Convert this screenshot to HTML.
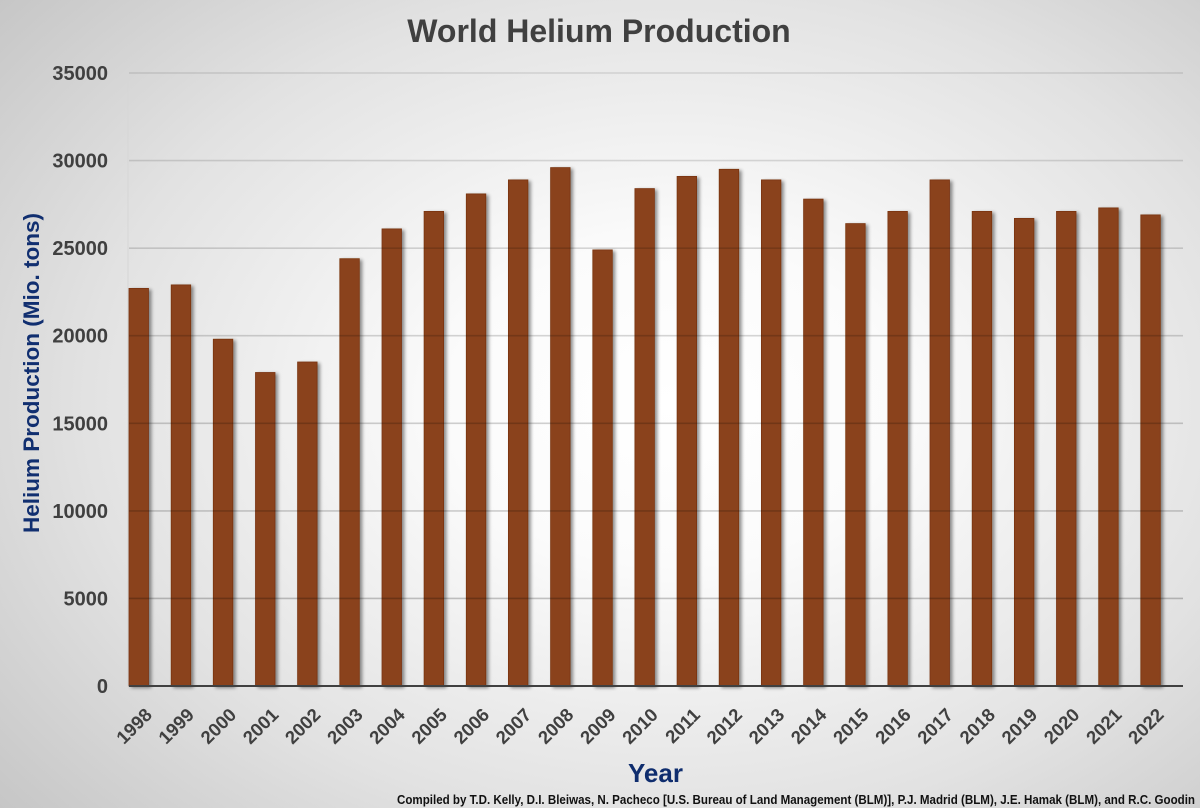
<!DOCTYPE html>
<html>
<head>
<meta charset="utf-8">
<style>
  html, body { margin:0; padding:0; }
  body { width:1200px; height:808px; overflow:hidden;
    background: radial-gradient(ellipse 75% 80% at 56% 50%, #ffffff 0%, #fbfbfb 25%, #e2e2e2 65%, #c4c4c4 100%); }
  svg { display:block; font-family: "Liberation Sans", Arial, sans-serif; }
</style>
</head>
<body>
<svg width="1200" height="808" viewBox="0 0 1200 808" xmlns="http://www.w3.org/2000/svg">
  <defs>
    <filter id="sh" x="-30%" y="-5%" width="160%" height="110%">
      <feGaussianBlur in="SourceAlpha" stdDeviation="1.8"/>
      <feOffset dx="2.5" dy="1.5" result="b"/>
      <feComponentTransfer><feFuncA type="linear" slope="0.45"/></feComponentTransfer>
      <feMerge><feMergeNode/><feMergeNode in="SourceGraphic"/></feMerge>
    </filter>
  </defs>

  <!-- title -->
  <text x="599" y="42" text-anchor="middle" font-size="32" font-weight="bold" fill="#404040">World Helium Production</text>

  <line x1="128" y1="73" x2="128" y2="686" stroke="#d6d6d6" stroke-width="1"/>

  <!-- y tick labels -->
  <g font-size="20" font-weight="bold" fill="#404040" text-anchor="end">
    <text x="108" y="80">35000</text>
    <text x="108" y="167.6">30000</text>
    <text x="108" y="255.2">25000</text>
    <text x="108" y="342.7">20000</text>
    <text x="108" y="430.3">15000</text>
    <text x="108" y="517.9">10000</text>
    <text x="108" y="605.4">5000</text>
    <text x="108" y="693">0</text>
  </g>

  <!-- bars -->
  <g fill="#8a421f" stroke="#7a3410" stroke-width="0.8" filter="url(#sh)">
    <rect x="129.0" y="288.4" width="19.5" height="397.6"/>
    <rect x="171.2" y="284.9" width="19.5" height="401.1"/>
    <rect x="213.3" y="339.2" width="19.5" height="346.8"/>
    <rect x="255.5" y="372.5" width="19.5" height="313.5"/>
    <rect x="297.6" y="362.0" width="19.5" height="324.0"/>
    <rect x="339.8" y="258.7" width="19.5" height="427.3"/>
    <rect x="382.0" y="228.9" width="19.5" height="457.1"/>
    <rect x="424.1" y="211.4" width="19.5" height="474.6"/>
    <rect x="466.3" y="193.9" width="19.5" height="492.1"/>
    <rect x="508.4" y="179.9" width="19.5" height="506.1"/>
    <rect x="550.6" y="167.6" width="19.5" height="518.4"/>
    <rect x="592.8" y="249.9" width="19.5" height="436.1"/>
    <rect x="634.9" y="188.6" width="19.5" height="497.4"/>
    <rect x="677.1" y="176.4" width="19.5" height="509.6"/>
    <rect x="719.2" y="169.3" width="19.5" height="516.7"/>
    <rect x="761.4" y="179.9" width="19.5" height="506.1"/>
    <rect x="803.6" y="199.1" width="19.5" height="486.9"/>
    <rect x="845.7" y="223.6" width="19.5" height="462.4"/>
    <rect x="887.9" y="211.4" width="19.5" height="474.6"/>
    <rect x="930.0" y="179.9" width="19.5" height="506.1"/>
    <rect x="972.2" y="211.4" width="19.5" height="474.6"/>
    <rect x="1014.4" y="218.4" width="19.5" height="467.6"/>
    <rect x="1056.5" y="211.4" width="19.5" height="474.6"/>
    <rect x="1098.7" y="207.9" width="19.5" height="478.1"/>
    <rect x="1140.8" y="214.9" width="19.5" height="471.1"/>
  </g>

  <!-- gridlines (over bars, semi-transparent) -->
  <g stroke="rgba(0,0,0,0.18)" stroke-width="1.6">
    <line x1="129" y1="73.0" x2="1183" y2="73.0" stroke="rgba(0,0,0,0.11)"/>
    <line x1="129" y1="160.6" x2="1183" y2="160.6" stroke="rgba(0,0,0,0.13)"/>
    <line x1="129" y1="248.2" x2="1183" y2="248.2" stroke="rgba(0,0,0,0.15)"/>
    <line x1="129" y1="335.7" x2="1183" y2="335.7" stroke="rgba(0,0,0,0.16)"/>
    <line x1="129" y1="423.3" x2="1183" y2="423.3"/>
    <line x1="129" y1="510.9" x2="1183" y2="510.9"/>
    <line x1="129" y1="598.4" x2="1183" y2="598.4" stroke="rgba(0,0,0,0.22)"/>
  </g>

  <!-- baseline -->
  <line x1="129" y1="686" x2="1183" y2="686" stroke="#404040" stroke-width="2"/>

  <!-- x tick labels -->
  <g font-size="18.5" font-weight="bold" fill="#404040" text-anchor="end">
    <text transform="translate(153.1,716) rotate(-45)">1998</text>
    <text transform="translate(195.2,716) rotate(-45)">1999</text>
    <text transform="translate(237.4,716) rotate(-45)">2000</text>
    <text transform="translate(279.6,716) rotate(-45)">2001</text>
    <text transform="translate(321.7,716) rotate(-45)">2002</text>
    <text transform="translate(363.9,716) rotate(-45)">2003</text>
    <text transform="translate(406.0,716) rotate(-45)">2004</text>
    <text transform="translate(448.2,716) rotate(-45)">2005</text>
    <text transform="translate(490.4,716) rotate(-45)">2006</text>
    <text transform="translate(532.5,716) rotate(-45)">2007</text>
    <text transform="translate(574.7,716) rotate(-45)">2008</text>
    <text transform="translate(616.8,716) rotate(-45)">2009</text>
    <text transform="translate(659.0,716) rotate(-45)">2010</text>
    <text transform="translate(701.2,716) rotate(-45)">2011</text>
    <text transform="translate(743.3,716) rotate(-45)">2012</text>
    <text transform="translate(785.5,716) rotate(-45)">2013</text>
    <text transform="translate(827.6,716) rotate(-45)">2014</text>
    <text transform="translate(869.8,716) rotate(-45)">2015</text>
    <text transform="translate(912.0,716) rotate(-45)">2016</text>
    <text transform="translate(954.1,716) rotate(-45)">2017</text>
    <text transform="translate(996.3,716) rotate(-45)">2018</text>
    <text transform="translate(1038.4,716) rotate(-45)">2019</text>
    <text transform="translate(1080.6,716) rotate(-45)">2020</text>
    <text transform="translate(1122.8,716) rotate(-45)">2021</text>
    <text transform="translate(1164.9,716) rotate(-45)">2022</text>
  </g>

  <!-- axis titles -->
  <text transform="translate(39,373) rotate(-90)" text-anchor="middle" font-size="22.5" font-weight="bold" fill="#112f70">Helium Production (Mio. tons)</text>
  <text x="655.5" y="782" text-anchor="middle" font-size="26" font-weight="bold" fill="#0f2d6e">Year</text>

  <!-- footer -->
  <text x="397" y="804" font-size="12.5" font-weight="bold" fill="#111" textLength="798" lengthAdjust="spacingAndGlyphs">Compiled by T.D. Kelly,  D.I. Bleiwas, N. Pacheco [U.S. Bureau of Land Management (BLM)], P.J. Madrid (BLM), J.E. Hamak (BLM), and R.C. Goodin</text>
</svg>
</body>
</html>
